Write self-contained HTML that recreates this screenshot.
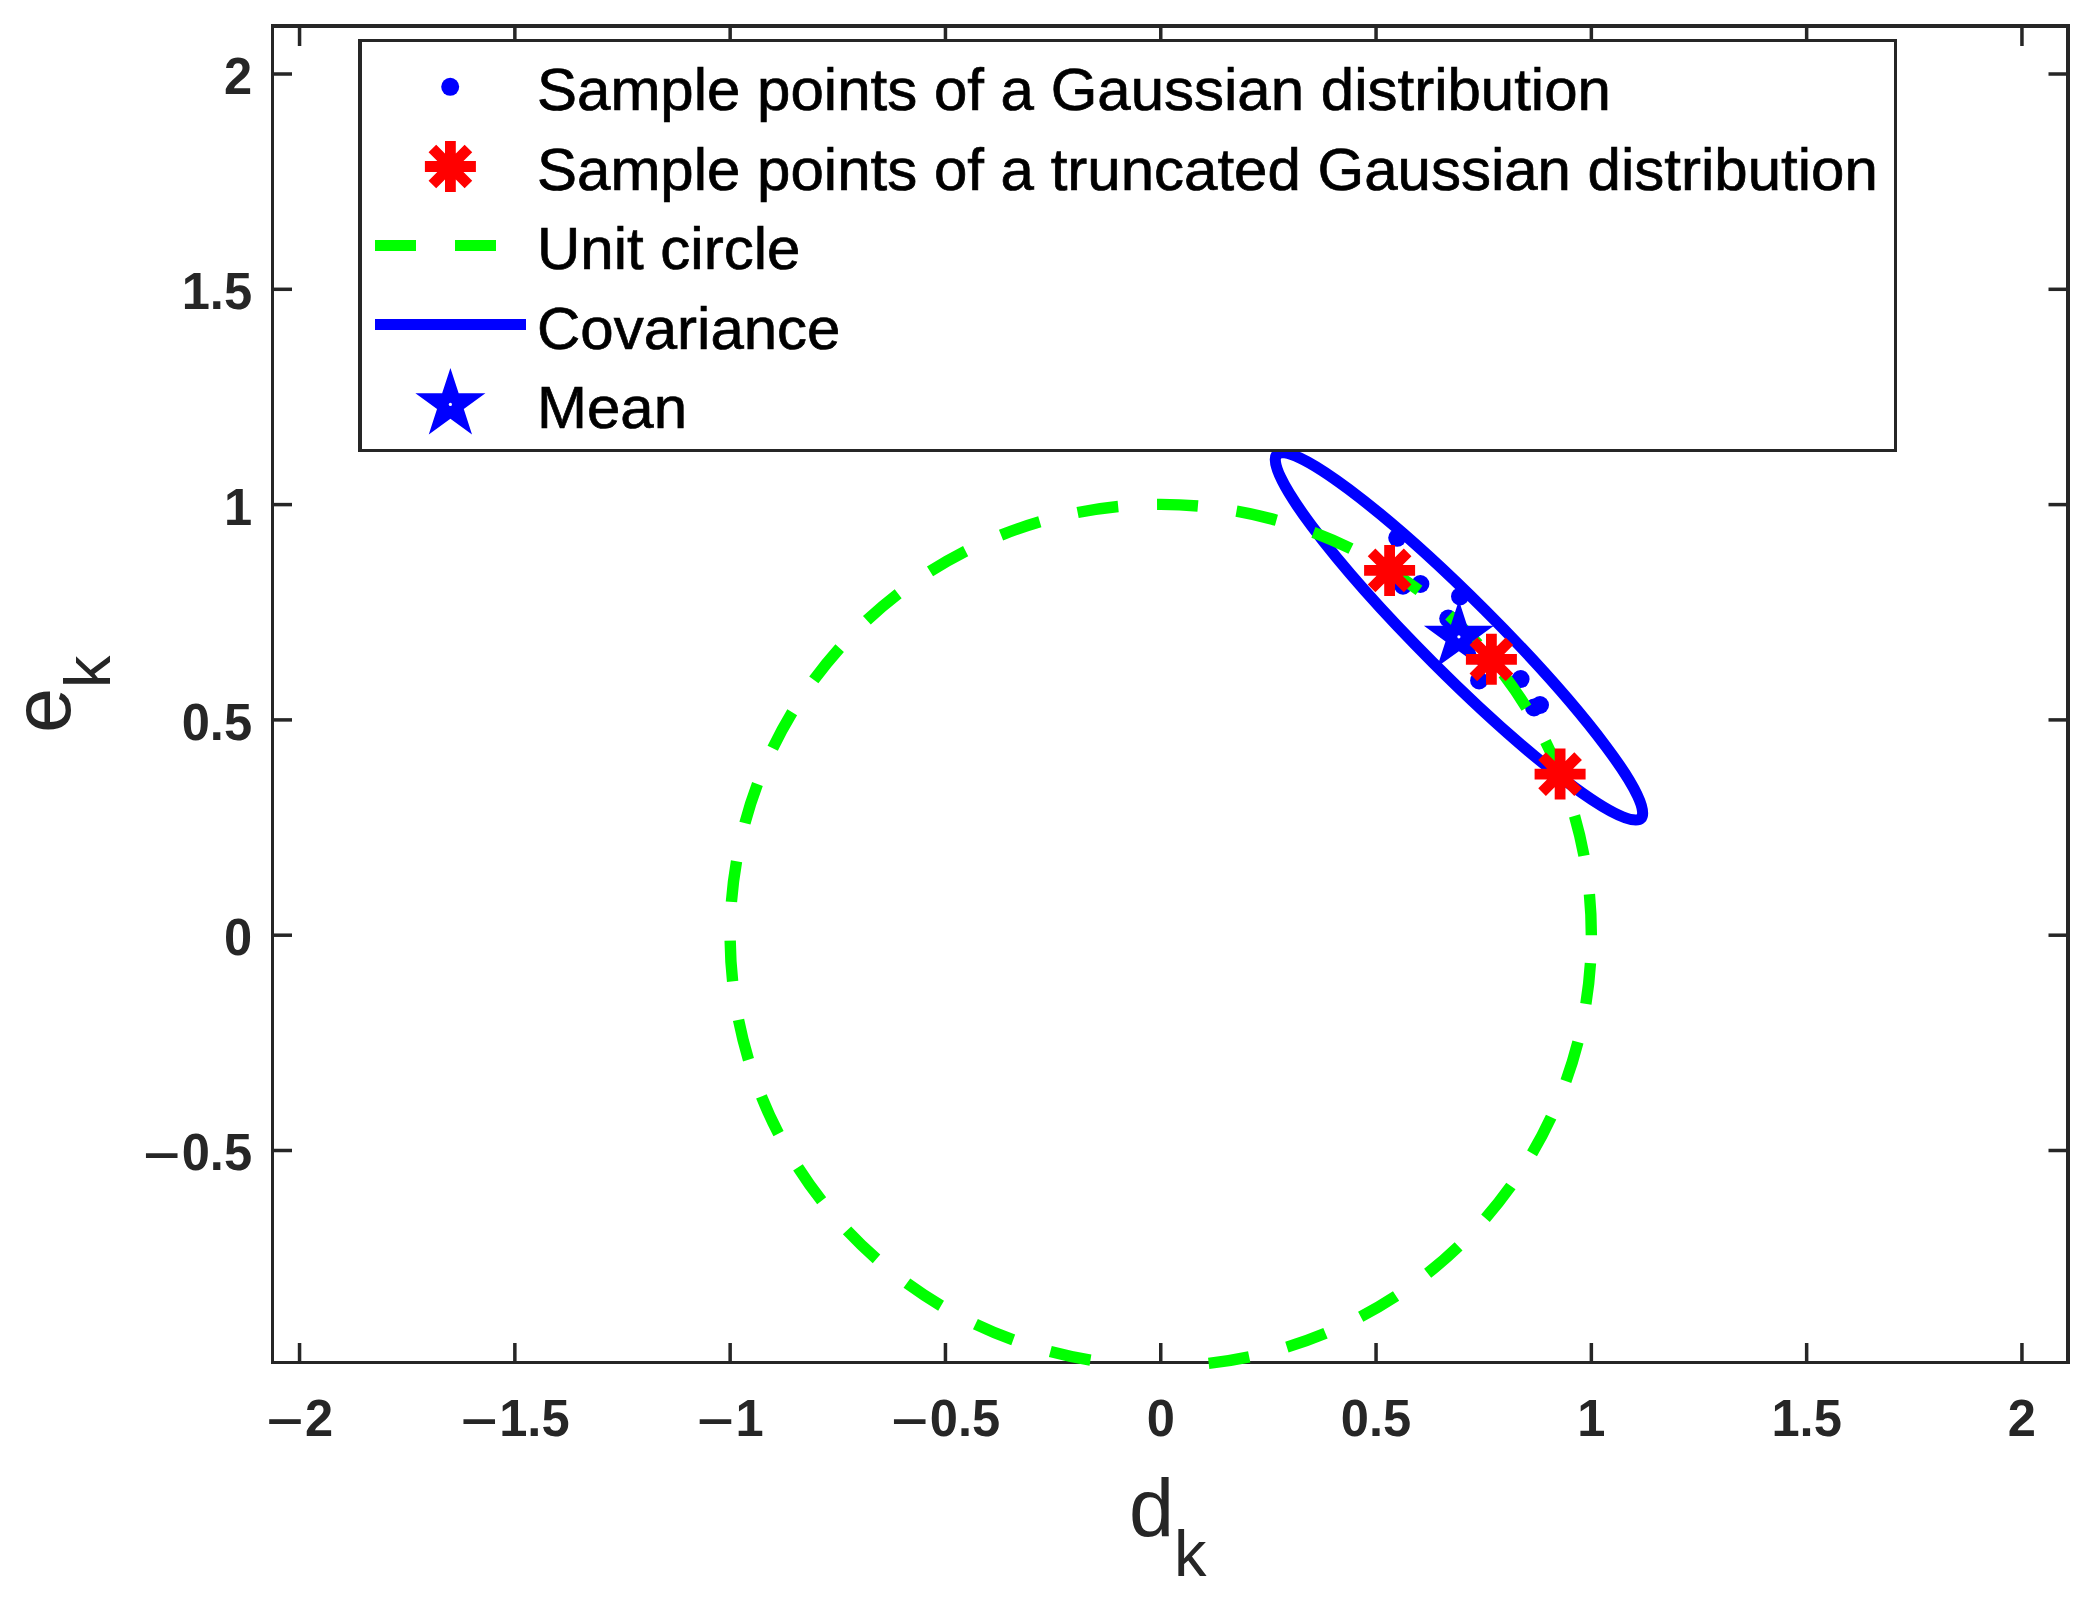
<!DOCTYPE html>
<html lang="en"><head><meta charset="utf-8"><title>Gaussian samples plot</title>
<style>html,body{margin:0;padding:0;background:#fff}svg{display:block}text{font-family:"Liberation Sans",Arial,Helvetica,sans-serif}.tk{font-weight:bold;font-size:50.65px;fill:#262626}.mn{font-weight:normal;font-size:65px}.lg{font-size:60px;fill:#000;stroke:#000;stroke-width:0.7px}.ax{font-size:81px;fill:#262626}.sub{font-size:65px}</style></head><body>
<svg width="2098" height="1601" viewBox="0 0 2098 1601">
<rect width="2098" height="1601" fill="#fff"/>
<g fill="#262626" shape-rendering="crispEdges">
<rect x="271" y="24" width="3" height="1340"/>
<rect x="271" y="1361" width="1799" height="3"/>
<rect x="271" y="24" width="1799" height="4"/>
<rect x="2066" y="24" width="4" height="1340"/>
<rect x="297.80" y="28" width="3.5" height="18" shape-rendering="geometricPrecision"/>
<rect x="297.80" y="1343" width="3.5" height="18" shape-rendering="geometricPrecision"/>
<rect x="513.10" y="28" width="3.5" height="18" shape-rendering="geometricPrecision"/>
<rect x="513.10" y="1343" width="3.5" height="18" shape-rendering="geometricPrecision"/>
<rect x="728.40" y="28" width="3.5" height="18" shape-rendering="geometricPrecision"/>
<rect x="728.40" y="1343" width="3.5" height="18" shape-rendering="geometricPrecision"/>
<rect x="943.70" y="28" width="3.5" height="18" shape-rendering="geometricPrecision"/>
<rect x="943.70" y="1343" width="3.5" height="18" shape-rendering="geometricPrecision"/>
<rect x="1159.00" y="28" width="3.5" height="18" shape-rendering="geometricPrecision"/>
<rect x="1159.00" y="1343" width="3.5" height="18" shape-rendering="geometricPrecision"/>
<rect x="1374.30" y="28" width="3.5" height="18" shape-rendering="geometricPrecision"/>
<rect x="1374.30" y="1343" width="3.5" height="18" shape-rendering="geometricPrecision"/>
<rect x="1589.60" y="28" width="3.5" height="18" shape-rendering="geometricPrecision"/>
<rect x="1589.60" y="1343" width="3.5" height="18" shape-rendering="geometricPrecision"/>
<rect x="1804.90" y="28" width="3.5" height="18" shape-rendering="geometricPrecision"/>
<rect x="1804.90" y="1343" width="3.5" height="18" shape-rendering="geometricPrecision"/>
<rect x="2020.20" y="28" width="3.5" height="18" shape-rendering="geometricPrecision"/>
<rect x="2020.20" y="1343" width="3.5" height="18" shape-rendering="geometricPrecision"/>
<rect x="274" y="1148.75" width="18" height="3.5" shape-rendering="geometricPrecision"/>
<rect x="2048.5" y="1148.75" width="18" height="3.5" shape-rendering="geometricPrecision"/>
<rect x="274" y="933.45" width="18" height="3.5" shape-rendering="geometricPrecision"/>
<rect x="2048.5" y="933.45" width="18" height="3.5" shape-rendering="geometricPrecision"/>
<rect x="274" y="718.15" width="18" height="3.5" shape-rendering="geometricPrecision"/>
<rect x="2048.5" y="718.15" width="18" height="3.5" shape-rendering="geometricPrecision"/>
<rect x="274" y="502.85" width="18" height="3.5" shape-rendering="geometricPrecision"/>
<rect x="2048.5" y="502.85" width="18" height="3.5" shape-rendering="geometricPrecision"/>
<rect x="274" y="287.55" width="18" height="3.5" shape-rendering="geometricPrecision"/>
<rect x="2048.5" y="287.55" width="18" height="3.5" shape-rendering="geometricPrecision"/>
<rect x="274" y="72.25" width="18" height="3.5" shape-rendering="geometricPrecision"/>
<rect x="2048.5" y="72.25" width="18" height="3.5" shape-rendering="geometricPrecision"/>
</g>
<text class="tk" text-anchor="middle" transform="translate(299.55,1435.70) scale(1,1.037)"><tspan class="mn" dy="7.6">−</tspan><tspan dx="1.1" dy="-7.6">2</tspan></text>
<text class="tk" text-anchor="middle" transform="translate(514.85,1435.70) scale(1,1.037)"><tspan class="mn" dy="7.6">−</tspan><tspan dx="1.1" dy="-7.6">1.5</tspan></text>
<text class="tk" text-anchor="middle" transform="translate(730.15,1435.70) scale(1,1.037)"><tspan class="mn" dy="7.6">−</tspan><tspan dx="1.1" dy="-7.6">1</tspan></text>
<text class="tk" text-anchor="middle" transform="translate(945.45,1435.70) scale(1,1.037)"><tspan class="mn" dy="7.6">−</tspan><tspan dx="1.1" dy="-7.6">0.5</tspan></text>
<text class="tk" text-anchor="middle" transform="translate(1160.75,1435.70) scale(1,1.037)">0</text>
<text class="tk" text-anchor="middle" transform="translate(1376.05,1435.70) scale(1,1.037)">0.5</text>
<text class="tk" text-anchor="middle" transform="translate(1591.35,1435.70) scale(1,1.037)">1</text>
<text class="tk" text-anchor="middle" transform="translate(1806.65,1435.70) scale(1,1.037)">1.5</text>
<text class="tk" text-anchor="middle" transform="translate(2021.95,1435.70) scale(1,1.037)">2</text>
<text class="tk" text-anchor="end" transform="translate(252.10,1170.40) scale(1,1.037)"><tspan class="mn" dy="7.6">−</tspan><tspan dx="1.1" dy="-7.6">0.5</tspan></text>
<text class="tk" text-anchor="end" transform="translate(252.10,955.10) scale(1,1.037)">0</text>
<text class="tk" text-anchor="end" transform="translate(252.10,739.80) scale(1,1.037)">0.5</text>
<text class="tk" text-anchor="end" transform="translate(252.10,524.50) scale(1,1.037)">1</text>
<text class="tk" text-anchor="end" transform="translate(252.10,309.20) scale(1,1.037)">1.5</text>
<text class="tk" text-anchor="end" transform="translate(252.10,93.90) scale(1,1.037)">2</text>
<text class="ax" x="1129" y="1536">d<tspan class="sub" dy="40">k</tspan></text>
<text class="ax" transform="translate(70,733) rotate(-90)">e<tspan class="sub" dy="40">k</tspan></text>
<g shape-rendering="geometricPrecision">
<ellipse cx="1458.95" cy="636.35" rx="257.3" ry="36.9" transform="rotate(45 1458.95 636.35)" fill="none" stroke="#0000ff" stroke-width="11.4"/>
<circle cx="1397.2" cy="537.8" r="9" fill="#0000ff"/>
<circle cx="1420.4" cy="584.0" r="9" fill="#0000ff"/>
<circle cx="1403.0" cy="585.7" r="9" fill="#0000ff"/>
<circle cx="1460.0" cy="596.4" r="9" fill="#0000ff"/>
<circle cx="1448.2" cy="618.6" r="9" fill="#0000ff"/>
<circle cx="1479.1" cy="680.4" r="9" fill="#0000ff"/>
<circle cx="1520.6" cy="679.1" r="9" fill="#0000ff"/>
<circle cx="1540.0" cy="705.0" r="9" fill="#0000ff"/>
<circle cx="1534.0" cy="707.5" r="9" fill="#0000ff"/>
<clipPath id="cc"><rect x="271" y="20" width="1799" height="1320"/><rect x="271" y="1339" width="849" height="40"/><rect x="1201" y="1339" width="869" height="40"/></clipPath>
<path clip-path="url(#cc)" d="M1591.35,935.20 A430.6,430.6 0 1 0 730.15,935.20 A430.6,430.6 0 1 0 1591.35,935.20" fill="none" stroke="#00ff00" stroke-width="11.4" stroke-dasharray="41 38.9"/>
<polygon points="1458.90,600.30 1467.16,625.73 1493.90,625.73 1472.27,641.44 1480.53,666.87 1458.90,651.16 1437.27,666.87 1445.53,641.44 1423.90,625.73 1450.64,625.73" fill="#0000ff"/><circle cx="1458.9" cy="636.8000000000001" r="1.6" fill="#fff"/>
<path d="M1364.10,570.4H1415.10M1389.6,544.90V595.90M1371.57,552.37L1407.63,588.43M1371.57,588.43L1407.63,552.37" stroke="#ff0000" stroke-width="10.8" fill="none"/>
<path d="M1465.90,659.3H1516.90M1491.4,633.80V684.80M1473.37,641.27L1509.43,677.33M1473.37,677.33L1509.43,641.27" stroke="#ff0000" stroke-width="10.8" fill="none"/>
<path d="M1534.60,774.1H1585.60M1560.1,748.60V799.60M1542.07,756.07L1578.13,792.13M1542.07,792.13L1578.13,756.07" stroke="#ff0000" stroke-width="10.8" fill="none"/>
</g>
<rect x="360" y="40.5" width="1535.5" height="410" fill="#fff" stroke="none"/>
<g fill="#262626" shape-rendering="crispEdges"><rect x="358" y="39" width="4" height="413"/><rect x="358" y="39" width="1539" height="3"/><rect x="358" y="449" width="1539" height="3"/><rect x="1894" y="39" width="3" height="413"/></g>
<circle cx="450.2" cy="86.8" r="9" fill="#0000ff"/>
<path d="M424.90,166.5H475.90M450.4,141.00V192.00M432.37,148.47L468.43,184.53M432.37,184.53L468.43,148.47" stroke="#ff0000" stroke-width="10.8" fill="none"/>
<rect x="375" y="240" width="41" height="11" fill="#00ff00"/><rect x="455" y="240" width="41" height="11" fill="#00ff00"/>
<rect x="375" y="319" width="151" height="11" fill="#0000ff"/>
<polygon points="450.40,367.90 458.66,393.33 485.40,393.33 463.77,409.04 472.03,434.47 450.40,418.76 428.77,434.47 437.03,409.04 415.40,393.33 442.14,393.33" fill="#0000ff"/><circle cx="450.4" cy="404.4" r="1.6" fill="#fff"/>
<text class="lg" x="537" y="110.4">Sample points of a Gaussian distribution</text>
<text class="lg" x="537" y="189.8">Sample points of a truncated Gaussian distribution</text>
<text class="lg" x="537" y="269.2">Unit circle</text>
<text class="lg" x="537" y="348.6">Covariance</text>
<text class="lg" x="537" y="428.0">Mean</text>
</svg></body></html>
